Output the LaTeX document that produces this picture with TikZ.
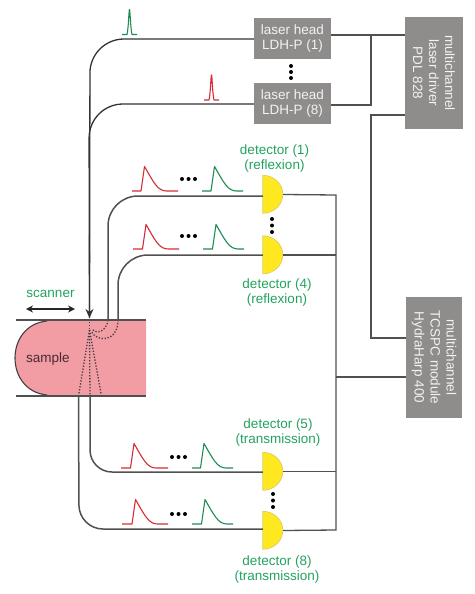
\documentclass[tikz,border=0pt]{standalone}
\usepackage{fontspec}
\setmainfont{Liberation Sans}
\usetikzlibrary{arrows.meta}
\definecolor{boxgray}{HTML}{8E8D8B}
\definecolor{boxtext}{HTML}{F2F2F2}
\definecolor{lbl}{HTML}{22A25F}
\definecolor{pgreen}{HTML}{1E8C52}
\definecolor{pred}{HTML}{D62B35}
\definecolor{wire}{HTML}{505050}
\definecolor{pinkfill}{HTML}{F29CA4}
\definecolor{yel}{HTML}{FFE81F}
\definecolor{yeledge}{HTML}{DDCB6A}
\definecolor{smptext}{HTML}{4A2A30}
\tikzset{
  box/.style={fill=boxgray,text=boxtext,inner sep=0pt,align=center,font=\fontsize{13.5}{15.5}\selectfont},
  rotbox/.style={box,font=\fontsize{13.5}{16}\selectfont},
  wireline/.style={draw=wire,line width=1.3pt},
  fibre/.style={draw=wire,line width=1.5pt,rounded corners=30pt},
  lasfibre/.style={draw=black!80,line width=1.3pt,rounded corners=34pt},
  lab/.style={text=lbl,inner sep=0pt,align=center,font=\fontsize{13.5}{15.5}\selectfont},
  pulsegreen/.style={draw=pgreen,line width=1.1pt,line join=round},
  pulsered/.style={draw=pred,line width=1.1pt,line join=round},
  blackdot/.style={circle,fill=black,inner sep=0pt,minimum size=4pt},
  plate/.style={draw=wire,line width=2.6pt},
  fine/.style={draw=black!75,line width=1.3pt,dash pattern=on 1.3pt off 1.7pt},
  detshape/.style={fill=yel,draw=yeledge,line width=.7pt},
  detanchor/.style={inner sep=0pt,minimum width=20pt,minimum height=38pt}
}
\newcommand{\decay}[5]{%
  \draw[#1] (#2,#4) -- (#5-3.5,#4) -- (#5,#4-24.5) .. controls (#5+9,#4-9) and (#5+13,#4) .. (#5+22,#4) -- (#3,#4);}
\newcommand{\spike}[5]{%
  \draw[#1] (#2,#4) -- (#5-2.5,#4) .. controls (#5-1,#4-6) and (#5-.6,#4-25) .. (#5,#4-25) .. controls (#5+.6,#4-25) and (#5+1,#4-6) .. (#5+2.5,#4) -- (#3,#4);}
\begin{document}
\begin{tikzpicture}[x=1pt,y=-1pt]
\useasboundingbox (0,0) rectangle (474,594);
% boxes
\node[box,minimum width=77pt,minimum height=41pt] (h1) at (292.5,38.5) {laser head\\LDH-P (1)};
\node[box,minimum width=77pt,minimum height=41pt] (h8) at (292.5,103.5) {laser head\\LDH-P (8)};
\node[rotbox,minimum width=112pt,minimum height=58pt,rotate=-90] (drv) at (434,73) {multichannel\\laser driver\\PDL 828};
\node[rotbox,minimum width=121pt,minimum height=56pt,rotate=-90] (tcspc) at (434,357.5) {multichannel\\TCSPC module\\HydraHarp 400};
% sample
\path[fill=pinkfill] (146,321) -- (47,321) .. controls (26,323) and (15,340) .. (15,358) .. controls (15,376) and (26,393) .. (47,395) -- (146,395) -- cycle;
\draw[draw=black!75,line width=1.1pt] (47,321) .. controls (26,323) and (15,340) .. (15,358) .. controls (15,376) and (26,393) .. (47,395);
\coordinate (spot) at (89.5,330);
\coordinate (topA) at (108,320);
\coordinate (topB) at (118,320);
\coordinate (botA) at (78.5,396);
\coordinate (botB) at (90,396);
\coordinate (botC) at (101.5,396);
\draw[fine] (spot) -- (botA);
\draw[fine] (spot) -- (botB);
\draw[fine] (spot) -- (botC);
\draw[fine] (89.5,322) -- (spot);
\draw[fine] (topA) .. controls (107,329) and (98,336) .. (92,329);
\draw[fine] (topB) .. controls (118,342) and (97,343) .. (91,331);
\draw[plate] (16,320) -- (146,320);
\draw[plate] (16,396) -- (146,396);
\node[inner sep=0pt,text=smptext,font=\fontsize{13.5}{15.5}\selectfont] (smp) at (48,359) {sample};
\node[lab] (scn) at (50.5,294) {scanner};
\coordinate (sl) at (26,309);
\coordinate (sr) at (75,309);
\draw[{Stealth[length=7pt,width=7pt]}-{Stealth[length=7pt,width=7pt]},draw=black!85,line width=1.3pt] (sl) -- (sr);
% detectors
\foreach \n/\cy in {d1/194.5,d4/255,d5/471.5,d8/530.5}{
  \node[detanchor] (\n) at (273,\cy) {};
  \draw[detshape] (\n.north west) arc[start angle=90,end angle=-90,x radius=20pt,y radius=19pt] -- cycle;
}
% wires right side (rotate=-90 turns the node's south anchor to its left side)
\coordinate (j1) at (371,35);
\coordinate (j2) at (371,115);
\coordinate (j3) at (371,338);
\coordinate (j8) at (371,105);
\coordinate (rt) at (336,195);
\coordinate (rb) at (336,530);
\coordinate (rm) at (336,377);
\draw[wireline] (h1.east |- j1) -- (j1 -| drv.south);
\draw[wireline] (h8.east |- j8) -- (j8) -- (j1);
\draw[wireline] (j2 -| drv.south) -- (j2) -- (j3) -- (j3 -| tcspc.south);
\draw[wireline] (rm) -- (rm -| tcspc.south);
\draw[wireline] (d1.east) -- (rt) -- (rb) -- (d8.east);
\draw[wireline] (d4.east) -- (d4.east -| rt);
\draw[wireline] (d5.east) -- (d5.east -| rt);
% fibres
\coordinate (arrowtip) at (89.5,318);
\draw[lasfibre] (h1.west |- 0,39) -- (90,39) -- (arrowtip);
\draw[lasfibre,-{Stealth[length=9pt,width=8pt]}] (h8.west |- 0,104) -- (89,104) -- (arrowtip);
\draw[fibre] (d1.west |- 0,196) -- (108,196) -- (topA);
\draw[fibre] (d4.west |- 0,255) -- (118,255) -- (topB);
\draw[fibre,rounded corners=22pt] (botB) -- (90,472) -- (d5.west |- 0,472);
\draw[fibre,rounded corners=24pt] (botA) -- (79,529) -- (d8.west |- 0,529);
% spikes
\spike{pulsegreen}{122}{137}{34.5}{129.5}
\spike{pulsered}{204}{219}{100}{211.5}
% decays
\decay{pulsered}{132}{178}{191}{144.5}
\decay{pulsegreen}{202}{243}{191}{214.5}
\decay{pulsered}{133}{179}{249}{146}
\decay{pulsegreen}{203}{244}{249}{216}
\decay{pulsered}{121}{168}{468}{134}
\decay{pulsegreen}{192}{233}{468}{204}
\decay{pulsered}{122}{168}{524}{135.5}
\decay{pulsegreen}{192}{233}{524}{205}
% dots
\foreach \p/\x/\y in {a1/182/179,a2/188.5/179,a3/195/179,b1/182/236,b2/188.5/236,b3/195/236,c1/172/457,c2/178.5/457,c3/185/457,e1/172/514,e2/178.5/514,e3/185/514,f1/291/66,f2/291/72,f3/291/78,g1/272/219,g2/272/225.5,g3/272/232,i1/273/494,i2/273/500.5,i3/273/507}{
  \node[blackdot] (\p) at (\x,\y) {};
}
% labels
\node[lab] (l1) at (274.5,158.5) {detector (1)\\(reflexion)};
\node[lab] (l4) at (277,292.5) {detector (4)\\(reflexion)};
\node[lab] (l5) at (278,432.5) {detector (5)\\(transmission)};
\node[lab] (l8) at (277,569.5) {detector (8)\\(transmission)};
\end{tikzpicture}
\end{document}
